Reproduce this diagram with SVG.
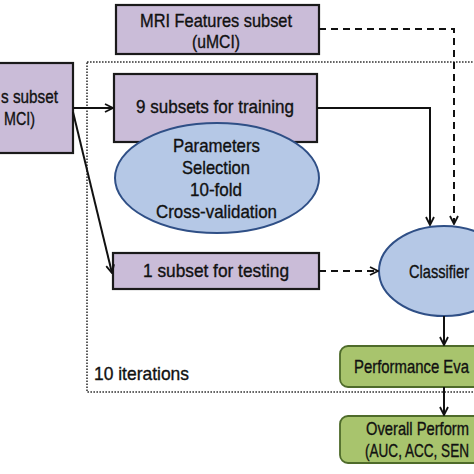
<svg xmlns="http://www.w3.org/2000/svg" width="474" height="474" viewBox="0 0 474 474">
<defs>
<style>
.box{fill:#cabcd8;stroke:#1a1a1a;stroke-width:2.2}
.ell{fill:#b5c8e6;stroke:#2f4f86;stroke-width:2}
.grn{fill:#a8c46d;stroke:#4e6b2a;stroke-width:1.8}
text{font-family:"Liberation Sans",Arial,sans-serif;font-size:18.5px;fill:#111;stroke:#111;stroke-width:0.35}
.ln{fill:none;stroke:#111;stroke-width:2}
.dash{fill:none;stroke:#111;stroke-width:2;stroke-dasharray:7 5}
.dot{fill:none;stroke:#333;stroke-width:1.6;stroke-dasharray:1.6 1.4}
</style>
<marker id="ah" viewBox="0 0 10 10" refX="9" refY="5" markerWidth="10" markerHeight="10" markerUnits="userSpaceOnUse" orient="auto">
<path d="M1,1 L9,5 L1,9" fill="none" stroke="#111" stroke-width="1.8"/>
</marker>
</defs>
<rect width="474" height="474" fill="#fff"/>
<rect class="dot" x="87" y="62" width="400" height="330"/>
<text x="94" y="380" textLength="95" lengthAdjust="spacingAndGlyphs">10 iterations</text>
<g id="pmci">
<rect class="box" x="-20" y="63" width="93" height="90"/>
<text x="1" y="103" textLength="57" lengthAdjust="spacingAndGlyphs">s subset</text>
<text x="4" y="125" textLength="31" lengthAdjust="spacingAndGlyphs">MCI)</text>
</g>
<g id="umci">
<rect class="box" x="116" y="5" width="203" height="49"/>
<text x="140" y="27" textLength="152" lengthAdjust="spacingAndGlyphs">MRI Features subset</text>
<text x="192" y="48" textLength="48" lengthAdjust="spacingAndGlyphs">(uMCI)</text>
</g>
<g id="train">
<rect class="box" x="114" y="74" width="203" height="68"/>
<text x="136" y="113" textLength="158" lengthAdjust="spacingAndGlyphs">9 subsets for training</text>
</g>
<g id="params">
<ellipse class="ell" cx="217" cy="178" rx="102" ry="55"/>
<text x="173" y="152" textLength="87" lengthAdjust="spacingAndGlyphs">Parameters</text>
<text x="182" y="174" textLength="68" lengthAdjust="spacingAndGlyphs">Selection</text>
<text x="190" y="196" textLength="52" lengthAdjust="spacingAndGlyphs">10-fold</text>
<text x="156" y="218" textLength="121" lengthAdjust="spacingAndGlyphs">Cross-validation</text>
</g>
<g id="test">
<rect class="box" x="113" y="253" width="206" height="36"/>
<text x="143" y="277" textLength="146" lengthAdjust="spacingAndGlyphs">1 subset for testing</text>
</g>
<g id="classifier">
<ellipse class="ell" cx="444" cy="271" rx="65" ry="45"/>
<text x="409" y="278" textLength="60" lengthAdjust="spacingAndGlyphs">Classifier</text>
</g>
<g id="perf">
<rect class="grn" x="340" y="346" width="160" height="41" rx="8"/>
<text x="354" y="373" textLength="115" lengthAdjust="spacingAndGlyphs">Performance Eva</text>
</g>
<g id="overall">
<rect class="grn" x="340" y="416" width="160" height="47" rx="8"/>
<text x="366" y="435" textLength="103" lengthAdjust="spacingAndGlyphs">Overall Perform</text>
<text x="365" y="457" textLength="104" lengthAdjust="spacingAndGlyphs">(AUC, ACC, SEN</text>
</g>
<g id="connectors">
<path class="ln" d="M73,108 H113" marker-end="url(#ah)"/>
<path class="ln" d="M73,112 L112,273" marker-end="url(#ah)"/>
<path class="ln" d="M317,108 H430 V225" marker-end="url(#ah)"/>
<path class="dash" d="M319,29 H454 V224" marker-end="url(#ah)"/>
<path class="dash" d="M319,271 H378" marker-end="url(#ah)"/>
<path class="ln" d="M444,316 V345" marker-end="url(#ah)"/>
<path class="ln" d="M444,387 V415" marker-end="url(#ah)"/>
</g>
</svg>
